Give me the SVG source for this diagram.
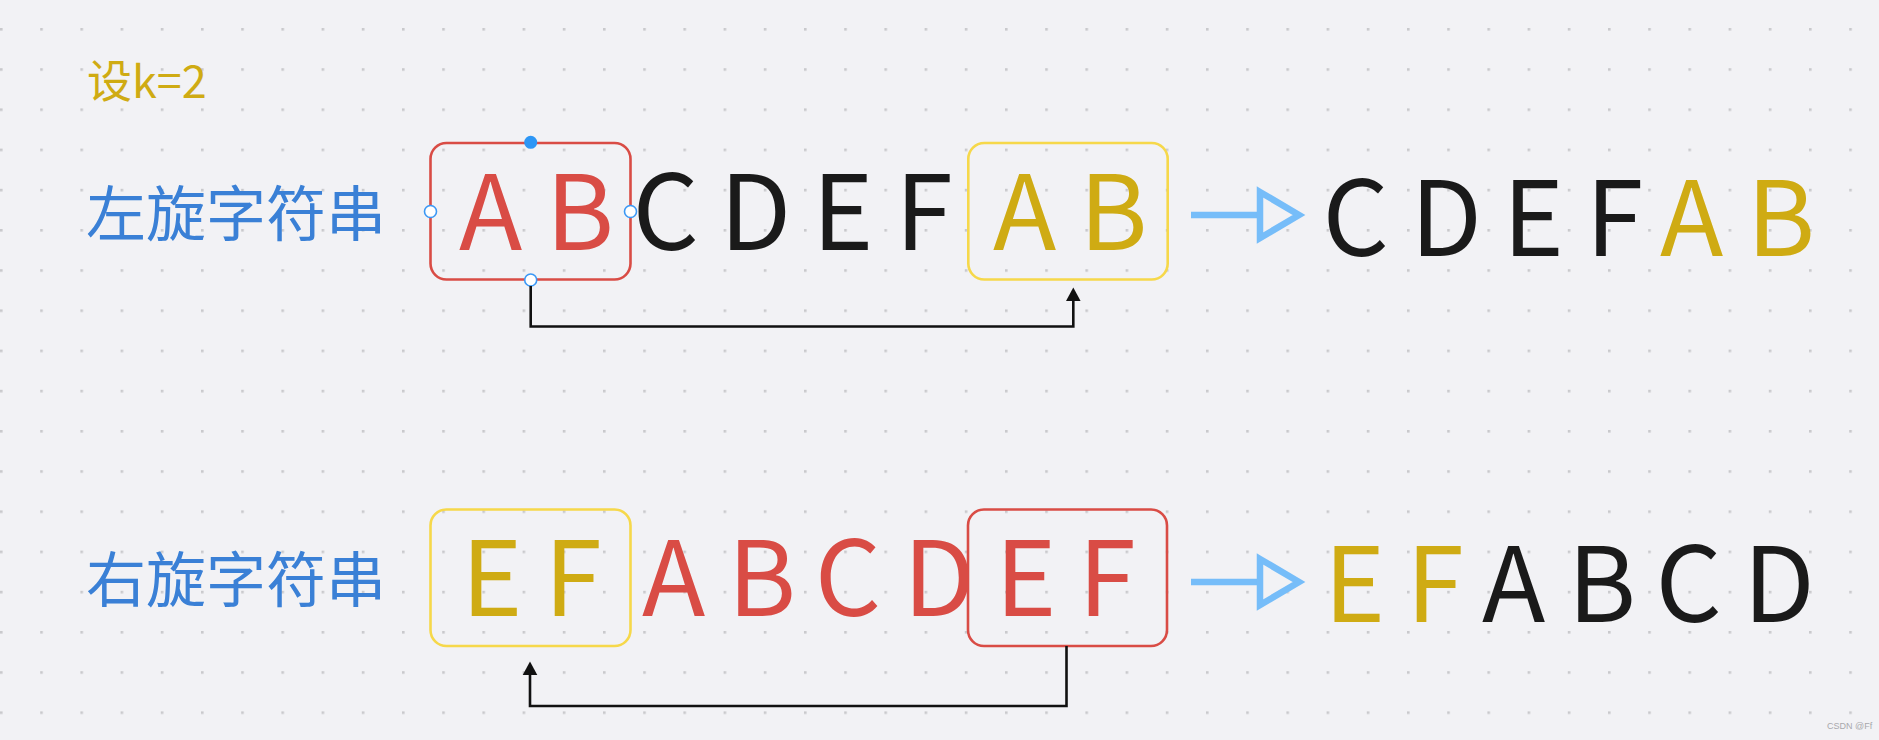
<svg xmlns="http://www.w3.org/2000/svg" width="1879" height="740" viewBox="0 0 1879 740">
  <defs>
    <pattern id="dots" x="0" y="28" width="40.2" height="40.2" patternUnits="userSpaceOnUse">
      <rect x="0" y="0" width="2.6" height="2.6" fill="#c9c9cc"/>
    </pattern>
    <style>
      .cjk { font-family: "Noto Sans CJK SC", "Noto Sans", sans-serif; }
      .big { font-family: "Noto Sans CJK SC", "Noto Sans", sans-serif; font-size: 104px; text-anchor: middle; }
      .red { fill: #d94c45; }
      .blk { fill: #1a1a1a; }
      .yel { fill: #cfab13; }
      .blue { fill: #3a80d6; }
      .boxRed { fill: none; stroke: #d94c45; stroke-width: 2.6; }
      .boxYel { fill: none; stroke: #f6d84a; stroke-width: 2.6; }
      .conn { fill: none; stroke: #111; stroke-width: 2.6; }
      .bArrow { fill: none; stroke: #76bdf9; stroke-width: 6.5; }
      .handle { fill: #ffffff; stroke: #3b98f5; stroke-width: 1.6; }
    </style>
  </defs>

  <rect x="0" y="0" width="1879" height="740" fill="#f2f2f5"/>
  <rect x="0" y="0" width="1879" height="740" fill="url(#dots)"/>

  <g id="label-k">
    <text class="cjk" x="87" y="98" font-size="45" fill="#cfab13">设k=2</text>
  </g>

  <!-- Row 1: left rotation -->
  <g id="title-left">
    <text class="cjk blue" x="86" y="236" font-size="60">左旋字符串</text>
  </g>

  <g id="box-left-AB">
    <rect class="boxRed" x="430.5" y="143" width="200" height="136.5" rx="16"/>
    <text class="big red" x="490.7" y="250">A</text>
    <text class="big red" x="580" y="250">B</text>
    <circle cx="530.7" cy="142.3" r="6.5" fill="#2d96f5"/>
    <circle class="handle" cx="430.5" cy="211.5" r="6"/>
    <circle class="handle" cx="630.5" cy="211.5" r="6"/>
    <circle class="handle" cx="530.7" cy="280" r="6"/>
  </g>

  <g id="left-CDEF">
    <text class="big blk" x="665.6" y="250">C</text>
    <text class="big blk" x="755.6" y="250">D</text>
    <text class="big blk" x="843" y="250">E</text>
    <text class="big blk" x="924" y="250">F</text>
  </g>

  <g id="box-left-AB-moved">
    <rect class="boxYel" x="968.3" y="143" width="199.4" height="136.5" rx="16"/>
    <text class="big yel" x="1024.7" y="250">A</text>
    <text class="big yel" x="1113.3" y="250">B</text>
  </g>

  <g id="arrow-left">
    <line class="bArrow" x1="1191" y1="215" x2="1259" y2="215"/>
    <path class="bArrow" d="M1260,192 L1299,215 L1260,238 Z"/>
  </g>

  <g id="result-left">
    <text class="big blk" x="1355.6" y="256">C</text>
    <text class="big blk" x="1446.4" y="256">D</text>
    <text class="big blk" x="1533.5" y="256">E</text>
    <text class="big blk" x="1614.4" y="256">F</text>
    <text class="big yel" x="1691.6" y="256">A</text>
    <text class="big yel" x="1781" y="256">B</text>
  </g>

  <!-- Row 2: right rotation -->
  <g id="title-right">
    <text class="cjk blue" x="86" y="602" font-size="60">右旋字符串</text>
  </g>

  <g id="box-right-EF-moved">
    <rect class="boxYel" x="430.5" y="509.5" width="200" height="136.5" rx="16"/>
    <text class="big yel" x="492" y="616">E</text>
    <text class="big yel" x="573" y="616">F</text>
  </g>

  <g id="right-ABCD">
    <text class="big red" x="673.6" y="616">A</text>
    <text class="big red" x="762" y="616">B</text>
    <text class="big red" x="848" y="616">C</text>
    <text class="big red" x="939" y="616">D</text>
  </g>

  <g id="box-right-EF">
    <rect class="boxRed" x="968" y="509.5" width="199" height="136.5" rx="16"/>
    <text class="big red" x="1025.8" y="616">E</text>
    <text class="big red" x="1107" y="616">F</text>
  </g>

  <g id="arrow-right">
    <line class="bArrow" x1="1191" y1="582" x2="1259" y2="582"/>
    <path class="bArrow" d="M1260,559 L1299,582 L1260,605 Z"/>
  </g>

  <g id="result-right">
    <text class="big yel" x="1354.7" y="622">E</text>
    <text class="big yel" x="1435" y="622">F</text>
    <text class="big blk" x="1513.6" y="622">A</text>
    <text class="big blk" x="1602" y="622">B</text>
    <text class="big blk" x="1688.6" y="622">C</text>
    <text class="big blk" x="1779" y="622">D</text>
  </g>

  <g id="connectors">
    <path class="conn" d="M530.7,286 L530.7,326.5 L1073.3,326.5 L1073.3,301"/>
    <path d="M1066,301 L1073.3,287.5 L1080.6,301 Z" fill="#111"/>
    <path class="conn" d="M1066.5,646 L1066.5,706 L530,706 L530,675"/>
    <path d="M522.7,675 L530,661.5 L537.3,675 Z" fill="#111"/>
  </g>

  <g id="watermark">
    <text x="1827" y="729" font-family="Liberation Sans, sans-serif" font-size="9" fill="#a8a8ac">CSDN @Ff</text>
  </g>
</svg>
